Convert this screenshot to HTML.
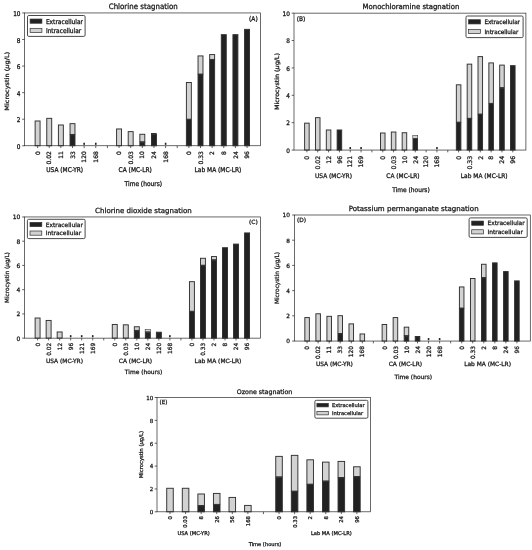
<!DOCTYPE html>
<html><head><meta charset="utf-8"><title>Microcystin stagnation</title>
<style>
html,body{margin:0;padding:0;background:#fff;}
svg{display:block;font-family:"DejaVu Sans", "Liberation Sans", sans-serif;fill:#222;}
svg text{fill:#1a1a1a;stroke:#1a1a1a;stroke-width:0.28px;}
</style></head><body>
<svg width="532" height="550" viewBox="0 0 532 550">
<rect x="0" y="0" width="532" height="550" fill="#fff"/>
<g id="panelA">
<rect x="35.12" y="120.99" width="4.95" height="24.76" fill="#d2d2d2" stroke="#303030" stroke-width="0.95"/>
<rect x="46.76" y="118.34" width="4.95" height="27.41" fill="#d2d2d2" stroke="#303030" stroke-width="0.95"/>
<rect x="58.4" y="124.98" width="4.95" height="20.77" fill="#d2d2d2" stroke="#303030" stroke-width="0.95"/>
<rect x="70.03" y="123.65" width="4.95" height="10.81" fill="#d2d2d2" stroke="#303030" stroke-width="0.95"/>
<rect x="70.03" y="134.94" width="4.95" height="10.81" fill="#222" stroke="#303030" stroke-width="0.95"/>
<rect x="83.34" y="142.75" width="1.6" height="2.1" fill="#222"/>
<rect x="94.98" y="142.75" width="1.6" height="2.1" fill="#222"/>
<rect x="116.58" y="128.96" width="4.95" height="16.79" fill="#d2d2d2" stroke="#303030" stroke-width="0.95"/>
<rect x="128.21" y="131.62" width="4.95" height="14.13" fill="#d2d2d2" stroke="#303030" stroke-width="0.95"/>
<rect x="139.85" y="134.27" width="4.95" height="7.49" fill="#d2d2d2" stroke="#303030" stroke-width="0.95"/>
<rect x="139.85" y="142.24" width="4.95" height="3.51" fill="#222" stroke="#303030" stroke-width="0.95"/>
<rect x="151.29" y="133.41" width="5.35" height="0.39" fill="#d2d2d2" stroke="#303030" stroke-width="0.55"/>
<rect x="151.49" y="134.27" width="4.95" height="11.48" fill="#222" stroke="#303030" stroke-width="0.95"/>
<rect x="164.8" y="142.75" width="1.6" height="2.1" fill="#222"/>
<rect x="186.39" y="82.48" width="4.95" height="36.71" fill="#d2d2d2" stroke="#303030" stroke-width="0.95"/>
<rect x="186.39" y="119.66" width="4.95" height="26.09" fill="#222" stroke="#303030" stroke-width="0.95"/>
<rect x="198.03" y="55.92" width="4.95" height="18.12" fill="#d2d2d2" stroke="#303030" stroke-width="0.95"/>
<rect x="198.03" y="74.51" width="4.95" height="71.24" fill="#222" stroke="#303030" stroke-width="0.95"/>
<rect x="209.67" y="54.59" width="4.95" height="4.84" fill="#d2d2d2" stroke="#303030" stroke-width="0.95"/>
<rect x="209.67" y="59.9" width="4.95" height="85.85" fill="#222" stroke="#303030" stroke-width="0.95"/>
<rect x="221.3" y="34.67" width="4.95" height="111.08" fill="#222" stroke="#303030" stroke-width="0.95"/>
<rect x="232.94" y="34.67" width="4.95" height="111.08" fill="#222" stroke="#303030" stroke-width="0.95"/>
<rect x="244.58" y="29.36" width="4.95" height="116.39" fill="#222" stroke="#303030" stroke-width="0.95"/>
<rect x="24.5" y="12.95" width="236" height="132.8" fill="none" stroke="#2a2a2a" stroke-width="0.7"/>
<line x1="22.2" y1="145.75" x2="24.5" y2="145.75" stroke="#383838" stroke-width="0.8"/>
<text transform="translate(20.5,148.82) scale(1,1.12)" text-anchor="end" font-size="5.8">0</text>
<line x1="22.2" y1="119.19" x2="24.5" y2="119.19" stroke="#383838" stroke-width="0.8"/>
<text transform="translate(20.5,122.26) scale(1,1.12)" text-anchor="end" font-size="5.8">2</text>
<line x1="22.2" y1="92.63" x2="24.5" y2="92.63" stroke="#383838" stroke-width="0.8"/>
<text transform="translate(20.5,95.7) scale(1,1.12)" text-anchor="end" font-size="5.8">4</text>
<line x1="22.2" y1="66.07" x2="24.5" y2="66.07" stroke="#383838" stroke-width="0.8"/>
<text transform="translate(20.5,69.14) scale(1,1.12)" text-anchor="end" font-size="5.8">6</text>
<line x1="22.2" y1="39.51" x2="24.5" y2="39.51" stroke="#383838" stroke-width="0.8"/>
<text transform="translate(20.5,42.58) scale(1,1.12)" text-anchor="end" font-size="5.8">8</text>
<line x1="22.2" y1="12.95" x2="24.5" y2="12.95" stroke="#383838" stroke-width="0.8"/>
<text transform="translate(20.5,16.02) scale(1,1.12)" text-anchor="end" font-size="5.8">10</text>
<line x1="37.6" y1="145.75" x2="37.6" y2="148.05" stroke="#383838" stroke-width="0.8"/>
<text transform="translate(39.76,151.2) rotate(-90)" text-anchor="end" font-size="6.0">0</text>
<line x1="49.24" y1="145.75" x2="49.24" y2="148.05" stroke="#383838" stroke-width="0.8"/>
<text transform="translate(51.4,151.2) rotate(-90)" text-anchor="end" font-size="6.0">0.02</text>
<line x1="60.87" y1="145.75" x2="60.87" y2="148.05" stroke="#383838" stroke-width="0.8"/>
<text transform="translate(63.03,151.2) rotate(-90)" text-anchor="end" font-size="6.0">11</text>
<line x1="72.51" y1="145.75" x2="72.51" y2="148.05" stroke="#383838" stroke-width="0.8"/>
<text transform="translate(74.67,151.2) rotate(-90)" text-anchor="end" font-size="6.0">33</text>
<line x1="84.14" y1="145.75" x2="84.14" y2="148.05" stroke="#383838" stroke-width="0.8"/>
<text transform="translate(86.3,151.2) rotate(-90)" text-anchor="end" font-size="6.0">120</text>
<line x1="95.78" y1="145.75" x2="95.78" y2="148.05" stroke="#383838" stroke-width="0.8"/>
<text transform="translate(97.94,151.2) rotate(-90)" text-anchor="end" font-size="6.0">168</text>
<text transform="translate(64.69,171.8) scale(1,1.12)" text-anchor="middle" font-size="5.9">USA (MC-YR)</text>
<line x1="107.42" y1="145.75" x2="107.42" y2="148.05" stroke="#383838" stroke-width="0.8"/>
<line x1="119.05" y1="145.75" x2="119.05" y2="148.05" stroke="#383838" stroke-width="0.8"/>
<text transform="translate(121.21,151.2) rotate(-90)" text-anchor="end" font-size="6.0">0</text>
<line x1="130.69" y1="145.75" x2="130.69" y2="148.05" stroke="#383838" stroke-width="0.8"/>
<text transform="translate(132.85,151.2) rotate(-90)" text-anchor="end" font-size="6.0">0.03</text>
<line x1="142.33" y1="145.75" x2="142.33" y2="148.05" stroke="#383838" stroke-width="0.8"/>
<text transform="translate(144.49,151.2) rotate(-90)" text-anchor="end" font-size="6.0">10</text>
<line x1="153.96" y1="145.75" x2="153.96" y2="148.05" stroke="#383838" stroke-width="0.8"/>
<text transform="translate(156.12,151.2) rotate(-90)" text-anchor="end" font-size="6.0">24</text>
<line x1="165.6" y1="145.75" x2="165.6" y2="148.05" stroke="#383838" stroke-width="0.8"/>
<text transform="translate(167.76,151.2) rotate(-90)" text-anchor="end" font-size="6.0">168</text>
<text transform="translate(135.23,171.8) scale(1,1.12)" text-anchor="middle" font-size="5.9">CA (MC-LR)</text>
<line x1="177.23" y1="145.75" x2="177.23" y2="148.05" stroke="#383838" stroke-width="0.8"/>
<line x1="188.87" y1="145.75" x2="188.87" y2="148.05" stroke="#383838" stroke-width="0.8"/>
<text transform="translate(191.03,151.2) rotate(-90)" text-anchor="end" font-size="6.0">0</text>
<line x1="200.51" y1="145.75" x2="200.51" y2="148.05" stroke="#383838" stroke-width="0.8"/>
<text transform="translate(202.67,151.2) rotate(-90)" text-anchor="end" font-size="6.0">0.33</text>
<line x1="212.14" y1="145.75" x2="212.14" y2="148.05" stroke="#383838" stroke-width="0.8"/>
<text transform="translate(214.3,151.2) rotate(-90)" text-anchor="end" font-size="6.0">2</text>
<line x1="223.78" y1="145.75" x2="223.78" y2="148.05" stroke="#383838" stroke-width="0.8"/>
<text transform="translate(225.94,151.2) rotate(-90)" text-anchor="end" font-size="6.0">8</text>
<line x1="235.41" y1="145.75" x2="235.41" y2="148.05" stroke="#383838" stroke-width="0.8"/>
<text transform="translate(237.57,151.2) rotate(-90)" text-anchor="end" font-size="6.0">24</text>
<line x1="247.05" y1="145.75" x2="247.05" y2="148.05" stroke="#383838" stroke-width="0.8"/>
<text transform="translate(249.21,151.2) rotate(-90)" text-anchor="end" font-size="6.0">96</text>
<text transform="translate(217.96,171.8) scale(1,1.12)" text-anchor="middle" font-size="5.9">Lab MA (MC-LR)</text>
<text transform="translate(143.3,185.7) scale(1,1.12)" text-anchor="middle" font-size="5.9">Time (hours)</text>
<text transform="translate(8.6,81.25) scale(1,1.12) rotate(-90)" text-anchor="middle" font-size="5.89">Microcystin (<tspan font-style="italic">μ</tspan>g/L)</text>
<text transform="translate(143.2,9.3) scale(1,1.072)" text-anchor="middle" font-size="7.05">Chlorine stagnation</text>
<text transform="translate(257.7,20.8) scale(1,1.12)" text-anchor="end" font-size="5.9">(A)</text>
<rect x="27.5" y="15.5" width="57.6" height="20.9" rx="1.3" fill="#fff" stroke="#404040" stroke-width="0.95"/>
<rect x="30.1" y="19.04" width="11.8" height="4.2" fill="#222" stroke="#303030" stroke-width="0.7"/>
<text transform="translate(45.9,23.52) scale(1,1.12)" font-size="5.9">Extracellular</text>
<rect x="30.1" y="28.34" width="11.8" height="4.2" fill="#d2d2d2" stroke="#303030" stroke-width="0.7"/>
<text transform="translate(45.9,32.82) scale(1,1.12)" font-size="5.9">Intracellular</text>
</g>
<g id="panelB">
<rect x="304.62" y="123.15" width="4.55" height="26.9" fill="#d2d2d2" stroke="#303030" stroke-width="0.95"/>
<rect x="315.46" y="117.67" width="4.55" height="32.38" fill="#d2d2d2" stroke="#303030" stroke-width="0.95"/>
<rect x="326.3" y="129.99" width="4.55" height="20.06" fill="#d2d2d2" stroke="#303030" stroke-width="0.95"/>
<rect x="337.14" y="129.99" width="4.55" height="20.06" fill="#222" stroke="#303030" stroke-width="0.95"/>
<rect x="349.45" y="147.05" width="1.6" height="2.1" fill="#222"/>
<rect x="360.28" y="147.05" width="1.6" height="2.1" fill="#222"/>
<rect x="380.48" y="133" width="4.55" height="17.05" fill="#d2d2d2" stroke="#303030" stroke-width="0.95"/>
<rect x="391.32" y="132.04" width="4.55" height="18.01" fill="#d2d2d2" stroke="#303030" stroke-width="0.95"/>
<rect x="402.16" y="132.73" width="4.55" height="17.32" fill="#d2d2d2" stroke="#303030" stroke-width="0.95"/>
<rect x="412.79" y="135.54" width="4.95" height="2.74" fill="#d2d2d2" stroke="#303030" stroke-width="0.55"/>
<rect x="412.99" y="138.75" width="4.55" height="11.3" fill="#222" stroke="#303030" stroke-width="0.95"/>
<rect x="436.14" y="147.05" width="1.6" height="2.1" fill="#222"/>
<rect x="456.34" y="84.81" width="4.55" height="37.31" fill="#d2d2d2" stroke="#303030" stroke-width="0.95"/>
<rect x="456.34" y="122.6" width="4.55" height="27.45" fill="#222" stroke="#303030" stroke-width="0.95"/>
<rect x="467.18" y="64.14" width="4.55" height="54.15" fill="#d2d2d2" stroke="#303030" stroke-width="0.95"/>
<rect x="467.18" y="118.76" width="4.55" height="31.29" fill="#222" stroke="#303030" stroke-width="0.95"/>
<rect x="478.01" y="56.61" width="4.55" height="57.43" fill="#d2d2d2" stroke="#303030" stroke-width="0.95"/>
<rect x="478.01" y="114.52" width="4.55" height="35.53" fill="#222" stroke="#303030" stroke-width="0.95"/>
<rect x="488.85" y="62.91" width="4.55" height="40.46" fill="#d2d2d2" stroke="#303030" stroke-width="0.95"/>
<rect x="488.85" y="103.84" width="4.55" height="46.21" fill="#222" stroke="#303030" stroke-width="0.95"/>
<rect x="499.69" y="65.1" width="4.55" height="22.52" fill="#d2d2d2" stroke="#303030" stroke-width="0.95"/>
<rect x="499.69" y="88.1" width="4.55" height="61.95" fill="#222" stroke="#303030" stroke-width="0.95"/>
<rect x="510.52" y="65.65" width="4.55" height="84.4" fill="#222" stroke="#303030" stroke-width="0.95"/>
<rect x="294" y="13.15" width="231.9" height="136.9" fill="none" stroke="#2a2a2a" stroke-width="0.7"/>
<line x1="291.7" y1="150.05" x2="294" y2="150.05" stroke="#383838" stroke-width="0.8"/>
<text transform="translate(289.9,152.82) scale(1,1.07)" text-anchor="end" font-size="5.8">0</text>
<line x1="291.7" y1="122.67" x2="294" y2="122.67" stroke="#383838" stroke-width="0.8"/>
<text transform="translate(289.9,125.44) scale(1,1.07)" text-anchor="end" font-size="5.8">2</text>
<line x1="291.7" y1="95.29" x2="294" y2="95.29" stroke="#383838" stroke-width="0.8"/>
<text transform="translate(289.9,98.06) scale(1,1.07)" text-anchor="end" font-size="5.8">4</text>
<line x1="291.7" y1="67.91" x2="294" y2="67.91" stroke="#383838" stroke-width="0.8"/>
<text transform="translate(289.9,70.68) scale(1,1.07)" text-anchor="end" font-size="5.8">6</text>
<line x1="291.7" y1="40.53" x2="294" y2="40.53" stroke="#383838" stroke-width="0.8"/>
<text transform="translate(289.9,43.3) scale(1,1.07)" text-anchor="end" font-size="5.8">8</text>
<line x1="291.7" y1="13.15" x2="294" y2="13.15" stroke="#383838" stroke-width="0.8"/>
<text transform="translate(289.9,15.92) scale(1,1.07)" text-anchor="end" font-size="5.8">10</text>
<line x1="306.9" y1="150.05" x2="306.9" y2="152.35" stroke="#383838" stroke-width="0.8"/>
<text transform="translate(309.13,155.75) rotate(-90)" text-anchor="end" font-size="6.2">0</text>
<line x1="317.74" y1="150.05" x2="317.74" y2="152.35" stroke="#383838" stroke-width="0.8"/>
<text transform="translate(319.97,155.75) rotate(-90)" text-anchor="end" font-size="6.2">0.02</text>
<line x1="328.57" y1="150.05" x2="328.57" y2="152.35" stroke="#383838" stroke-width="0.8"/>
<text transform="translate(330.81,155.75) rotate(-90)" text-anchor="end" font-size="6.2">12</text>
<line x1="339.41" y1="150.05" x2="339.41" y2="152.35" stroke="#383838" stroke-width="0.8"/>
<text transform="translate(341.64,155.75) rotate(-90)" text-anchor="end" font-size="6.2">96</text>
<line x1="350.25" y1="150.05" x2="350.25" y2="152.35" stroke="#383838" stroke-width="0.8"/>
<text transform="translate(352.48,155.75) rotate(-90)" text-anchor="end" font-size="6.2">121</text>
<line x1="361.08" y1="150.05" x2="361.08" y2="152.35" stroke="#383838" stroke-width="0.8"/>
<text transform="translate(363.32,155.75) rotate(-90)" text-anchor="end" font-size="6.2">169</text>
<text transform="translate(333.49,177.8) scale(1,1.07)" text-anchor="middle" font-size="5.9">USA (MC-YR)</text>
<line x1="371.92" y1="150.05" x2="371.92" y2="152.35" stroke="#383838" stroke-width="0.8"/>
<line x1="382.76" y1="150.05" x2="382.76" y2="152.35" stroke="#383838" stroke-width="0.8"/>
<text transform="translate(384.99,155.75) rotate(-90)" text-anchor="end" font-size="6.2">0</text>
<line x1="393.59" y1="150.05" x2="393.59" y2="152.35" stroke="#383838" stroke-width="0.8"/>
<text transform="translate(395.83,155.75) rotate(-90)" text-anchor="end" font-size="6.2">0.03</text>
<line x1="404.43" y1="150.05" x2="404.43" y2="152.35" stroke="#383838" stroke-width="0.8"/>
<text transform="translate(406.66,155.75) rotate(-90)" text-anchor="end" font-size="6.2">10</text>
<line x1="415.27" y1="150.05" x2="415.27" y2="152.35" stroke="#383838" stroke-width="0.8"/>
<text transform="translate(417.5,155.75) rotate(-90)" text-anchor="end" font-size="6.2">24</text>
<line x1="426.11" y1="150.05" x2="426.11" y2="152.35" stroke="#383838" stroke-width="0.8"/>
<text transform="translate(428.34,155.75) rotate(-90)" text-anchor="end" font-size="6.2">120</text>
<line x1="436.94" y1="150.05" x2="436.94" y2="152.35" stroke="#383838" stroke-width="0.8"/>
<text transform="translate(439.17,155.75) rotate(-90)" text-anchor="end" font-size="6.2">168</text>
<text transform="translate(402.95,177.8) scale(1,1.07)" text-anchor="middle" font-size="5.9">CA (MC-LR)</text>
<line x1="447.78" y1="150.05" x2="447.78" y2="152.35" stroke="#383838" stroke-width="0.8"/>
<line x1="458.62" y1="150.05" x2="458.62" y2="152.35" stroke="#383838" stroke-width="0.8"/>
<text transform="translate(460.85,155.75) rotate(-90)" text-anchor="end" font-size="6.2">0</text>
<line x1="469.45" y1="150.05" x2="469.45" y2="152.35" stroke="#383838" stroke-width="0.8"/>
<text transform="translate(471.68,155.75) rotate(-90)" text-anchor="end" font-size="6.2">0.33</text>
<line x1="480.29" y1="150.05" x2="480.29" y2="152.35" stroke="#383838" stroke-width="0.8"/>
<text transform="translate(482.52,155.75) rotate(-90)" text-anchor="end" font-size="6.2">2</text>
<line x1="491.13" y1="150.05" x2="491.13" y2="152.35" stroke="#383838" stroke-width="0.8"/>
<text transform="translate(493.36,155.75) rotate(-90)" text-anchor="end" font-size="6.2">8</text>
<line x1="501.96" y1="150.05" x2="501.96" y2="152.35" stroke="#383838" stroke-width="0.8"/>
<text transform="translate(504.2,155.75) rotate(-90)" text-anchor="end" font-size="6.2">24</text>
<line x1="512.8" y1="150.05" x2="512.8" y2="152.35" stroke="#383838" stroke-width="0.8"/>
<text transform="translate(515.03,155.75) rotate(-90)" text-anchor="end" font-size="6.2">96</text>
<text transform="translate(484.21,177.8) scale(1,1.07)" text-anchor="middle" font-size="5.9">Lab MA (MC-LR)</text>
<text transform="translate(411,191.6) scale(1,1.07)" text-anchor="middle" font-size="5.9">Time (hours)</text>
<text transform="translate(278.5,81.6) scale(1,1.085) rotate(-90)" text-anchor="middle" font-size="5.9">Microcystin (<tspan font-style="italic">μ</tspan>g/L)</text>
<text transform="translate(410.9,9.2) scale(1,1.042)" text-anchor="middle" font-size="6.95">Monochloramine stagnation</text>
<text transform="translate(296.7,21.23) scale(1,1.07)" font-size="5.9">(B)</text>
<rect x="466" y="16" width="57.1" height="21.6" rx="1.3" fill="#fff" stroke="#404040" stroke-width="0.95"/>
<rect x="468.6" y="19.73" width="11.8" height="4.2" fill="#222" stroke="#303030" stroke-width="0.7"/>
<text transform="translate(484.4,24.01) scale(1,1.07)" font-size="5.65">Extracellular</text>
<rect x="468.6" y="29.34" width="11.8" height="4.2" fill="#d2d2d2" stroke="#303030" stroke-width="0.7"/>
<text transform="translate(484.4,33.62) scale(1,1.07)" font-size="5.65">Intracellular</text>
</g>
<g id="panelC">
<rect x="35.12" y="318.02" width="4.95" height="20.13" fill="#d2d2d2" stroke="#303030" stroke-width="0.95"/>
<rect x="46.15" y="320.44" width="4.95" height="17.71" fill="#d2d2d2" stroke="#303030" stroke-width="0.95"/>
<rect x="57.17" y="331.96" width="4.95" height="6.19" fill="#d2d2d2" stroke="#303030" stroke-width="0.95"/>
<rect x="69.87" y="335.15" width="1.6" height="2.1" fill="#222"/>
<rect x="80.89" y="335.15" width="1.6" height="2.1" fill="#222"/>
<rect x="91.92" y="335.15" width="1.6" height="2.1" fill="#222"/>
<rect x="112.29" y="324.44" width="4.95" height="13.71" fill="#d2d2d2" stroke="#303030" stroke-width="0.95"/>
<rect x="123.31" y="324.81" width="4.95" height="13.34" fill="#d2d2d2" stroke="#303030" stroke-width="0.95"/>
<rect x="134.34" y="326.75" width="4.95" height="3.65" fill="#d2d2d2" stroke="#303030" stroke-width="0.95"/>
<rect x="134.34" y="330.87" width="4.95" height="7.28" fill="#222" stroke="#303030" stroke-width="0.95"/>
<rect x="145.16" y="329.46" width="5.35" height="2.27" fill="#d2d2d2" stroke="#303030" stroke-width="0.55"/>
<rect x="145.36" y="332.2" width="4.95" height="5.95" fill="#222" stroke="#303030" stroke-width="0.95"/>
<rect x="156.39" y="332.2" width="4.95" height="5.95" fill="#222" stroke="#303030" stroke-width="0.95"/>
<rect x="169.08" y="335.15" width="1.6" height="2.1" fill="#222"/>
<rect x="189.46" y="281.66" width="4.95" height="29.58" fill="#d2d2d2" stroke="#303030" stroke-width="0.95"/>
<rect x="189.46" y="311.72" width="4.95" height="26.43" fill="#222" stroke="#303030" stroke-width="0.95"/>
<rect x="200.48" y="258.27" width="4.95" height="6.92" fill="#d2d2d2" stroke="#303030" stroke-width="0.95"/>
<rect x="200.48" y="265.66" width="4.95" height="72.49" fill="#222" stroke="#303030" stroke-width="0.95"/>
<rect x="211.5" y="256.57" width="4.95" height="3.16" fill="#d2d2d2" stroke="#303030" stroke-width="0.95"/>
<rect x="211.5" y="260.21" width="4.95" height="77.94" fill="#222" stroke="#303030" stroke-width="0.95"/>
<rect x="222.53" y="247.72" width="4.95" height="90.42" fill="#222" stroke="#303030" stroke-width="0.95"/>
<rect x="233.55" y="244.09" width="4.95" height="94.06" fill="#222" stroke="#303030" stroke-width="0.95"/>
<rect x="244.58" y="232.94" width="4.95" height="105.21" fill="#222" stroke="#303030" stroke-width="0.95"/>
<rect x="24.5" y="216.95" width="236" height="121.2" fill="none" stroke="#2a2a2a" stroke-width="0.7"/>
<line x1="22.2" y1="338.15" x2="24.5" y2="338.15" stroke="#383838" stroke-width="0.8"/>
<text x="20.3" y="340.64" text-anchor="end" font-size="6.0">0</text>
<line x1="22.2" y1="313.91" x2="24.5" y2="313.91" stroke="#383838" stroke-width="0.8"/>
<text x="20.3" y="316.4" text-anchor="end" font-size="6.0">2</text>
<line x1="22.2" y1="289.67" x2="24.5" y2="289.67" stroke="#383838" stroke-width="0.8"/>
<text x="20.3" y="292.16" text-anchor="end" font-size="6.0">4</text>
<line x1="22.2" y1="265.43" x2="24.5" y2="265.43" stroke="#383838" stroke-width="0.8"/>
<text x="20.3" y="267.92" text-anchor="end" font-size="6.0">6</text>
<line x1="22.2" y1="241.19" x2="24.5" y2="241.19" stroke="#383838" stroke-width="0.8"/>
<text x="20.3" y="243.68" text-anchor="end" font-size="6.0">8</text>
<line x1="22.2" y1="216.95" x2="24.5" y2="216.95" stroke="#383838" stroke-width="0.8"/>
<text x="20.3" y="219.44" text-anchor="end" font-size="6.0">10</text>
<line x1="37.6" y1="338.15" x2="37.6" y2="340.45" stroke="#383838" stroke-width="0.8"/>
<text transform="translate(39.69,342.9) rotate(-90)" text-anchor="end" font-size="5.8">0</text>
<line x1="48.62" y1="338.15" x2="48.62" y2="340.45" stroke="#383838" stroke-width="0.8"/>
<text transform="translate(50.71,342.9) rotate(-90)" text-anchor="end" font-size="5.8">0.02</text>
<line x1="59.65" y1="338.15" x2="59.65" y2="340.45" stroke="#383838" stroke-width="0.8"/>
<text transform="translate(61.74,342.9) rotate(-90)" text-anchor="end" font-size="5.8">12</text>
<line x1="70.67" y1="338.15" x2="70.67" y2="340.45" stroke="#383838" stroke-width="0.8"/>
<text transform="translate(72.76,342.9) rotate(-90)" text-anchor="end" font-size="5.8">96</text>
<line x1="81.69" y1="338.15" x2="81.69" y2="340.45" stroke="#383838" stroke-width="0.8"/>
<text transform="translate(83.78,342.9) rotate(-90)" text-anchor="end" font-size="5.8">121</text>
<line x1="92.72" y1="338.15" x2="92.72" y2="340.45" stroke="#383838" stroke-width="0.8"/>
<text transform="translate(94.81,342.9) rotate(-90)" text-anchor="end" font-size="5.8">169</text>
<text x="64.46" y="362.9" text-anchor="middle" font-size="5.9">USA (MC-YR)</text>
<line x1="103.74" y1="338.15" x2="103.74" y2="340.45" stroke="#383838" stroke-width="0.8"/>
<line x1="114.77" y1="338.15" x2="114.77" y2="340.45" stroke="#383838" stroke-width="0.8"/>
<text transform="translate(116.85,342.9) rotate(-90)" text-anchor="end" font-size="5.8">0</text>
<line x1="125.79" y1="338.15" x2="125.79" y2="340.45" stroke="#383838" stroke-width="0.8"/>
<text transform="translate(127.88,342.9) rotate(-90)" text-anchor="end" font-size="5.8">0.03</text>
<line x1="136.81" y1="338.15" x2="136.81" y2="340.45" stroke="#383838" stroke-width="0.8"/>
<text transform="translate(138.9,342.9) rotate(-90)" text-anchor="end" font-size="5.8">10</text>
<line x1="147.84" y1="338.15" x2="147.84" y2="340.45" stroke="#383838" stroke-width="0.8"/>
<text transform="translate(149.92,342.9) rotate(-90)" text-anchor="end" font-size="5.8">24</text>
<line x1="158.86" y1="338.15" x2="158.86" y2="340.45" stroke="#383838" stroke-width="0.8"/>
<text transform="translate(160.95,342.9) rotate(-90)" text-anchor="end" font-size="5.8">120</text>
<line x1="169.88" y1="338.15" x2="169.88" y2="340.45" stroke="#383838" stroke-width="0.8"/>
<text transform="translate(171.97,342.9) rotate(-90)" text-anchor="end" font-size="5.8">168</text>
<text x="135.53" y="362.9" text-anchor="middle" font-size="5.9">CA (MC-LR)</text>
<line x1="180.91" y1="338.15" x2="180.91" y2="340.45" stroke="#383838" stroke-width="0.8"/>
<line x1="191.93" y1="338.15" x2="191.93" y2="340.45" stroke="#383838" stroke-width="0.8"/>
<text transform="translate(194.02,342.9) rotate(-90)" text-anchor="end" font-size="5.8">0</text>
<line x1="202.96" y1="338.15" x2="202.96" y2="340.45" stroke="#383838" stroke-width="0.8"/>
<text transform="translate(205.04,342.9) rotate(-90)" text-anchor="end" font-size="5.8">0.33</text>
<line x1="213.98" y1="338.15" x2="213.98" y2="340.45" stroke="#383838" stroke-width="0.8"/>
<text transform="translate(216.07,342.9) rotate(-90)" text-anchor="end" font-size="5.8">2</text>
<line x1="225" y1="338.15" x2="225" y2="340.45" stroke="#383838" stroke-width="0.8"/>
<text transform="translate(227.09,342.9) rotate(-90)" text-anchor="end" font-size="5.8">8</text>
<line x1="236.03" y1="338.15" x2="236.03" y2="340.45" stroke="#383838" stroke-width="0.8"/>
<text transform="translate(238.11,342.9) rotate(-90)" text-anchor="end" font-size="5.8">24</text>
<line x1="247.05" y1="338.15" x2="247.05" y2="340.45" stroke="#383838" stroke-width="0.8"/>
<text transform="translate(249.14,342.9) rotate(-90)" text-anchor="end" font-size="5.8">96</text>
<text x="217.99" y="362.9" text-anchor="middle" font-size="5.9">Lab MA (MC-LR)</text>
<text x="143.6" y="374.3" text-anchor="middle" font-size="5.9">Time (hours)</text>
<text transform="translate(8.6,277.55) scale(1,1.0) rotate(-90)" text-anchor="middle" font-size="5.7">Microcystin (<tspan font-style="italic">μ</tspan>g/L)</text>
<text x="143.45" y="213.4" text-anchor="middle" font-size="7.05">Chlorine dioxide stagnation</text>
<text x="257.7" y="224.06" text-anchor="end" font-size="5.9">(C)</text>
<rect x="27.4" y="219.3" width="57.7" height="19.3" rx="1.3" fill="#fff" stroke="#404040" stroke-width="0.95"/>
<rect x="30" y="222.41" width="11.8" height="4.2" fill="#222" stroke="#303030" stroke-width="0.7"/>
<text x="45.8" y="226.63" font-size="5.9">Extracellular</text>
<rect x="30" y="231" width="11.8" height="4.2" fill="#d2d2d2" stroke="#303030" stroke-width="0.7"/>
<text x="45.8" y="235.22" font-size="5.9">Intracellular</text>
</g>
<g id="panelD">
<rect x="304.83" y="317.58" width="4.55" height="23.47" fill="#d2d2d2" stroke="#303030" stroke-width="0.95"/>
<rect x="315.87" y="313.79" width="4.55" height="27.26" fill="#d2d2d2" stroke="#303030" stroke-width="0.95"/>
<rect x="326.91" y="316.32" width="4.55" height="24.73" fill="#d2d2d2" stroke="#303030" stroke-width="0.95"/>
<rect x="337.95" y="315.68" width="4.55" height="17.8" fill="#d2d2d2" stroke="#303030" stroke-width="0.95"/>
<rect x="337.95" y="333.96" width="4.55" height="7.09" fill="#222" stroke="#303030" stroke-width="0.95"/>
<rect x="348.99" y="323.88" width="4.55" height="17.17" fill="#d2d2d2" stroke="#303030" stroke-width="0.95"/>
<rect x="360.04" y="333.96" width="4.55" height="7.09" fill="#d2d2d2" stroke="#303030" stroke-width="0.95"/>
<rect x="382.12" y="324.51" width="4.55" height="16.54" fill="#d2d2d2" stroke="#303030" stroke-width="0.95"/>
<rect x="393.16" y="317.58" width="4.55" height="23.47" fill="#d2d2d2" stroke="#303030" stroke-width="0.95"/>
<rect x="404.2" y="327.16" width="4.55" height="8.47" fill="#d2d2d2" stroke="#303030" stroke-width="0.95"/>
<rect x="404.2" y="336.1" width="4.55" height="4.95" fill="#222" stroke="#303030" stroke-width="0.95"/>
<rect x="415.25" y="336.48" width="4.55" height="4.57" fill="#222" stroke="#303030" stroke-width="0.95"/>
<rect x="427.76" y="338.05" width="1.6" height="2.1" fill="#222"/>
<rect x="438.81" y="338.05" width="1.6" height="2.1" fill="#222"/>
<rect x="459.41" y="286.95" width="4.55" height="21.08" fill="#d2d2d2" stroke="#303030" stroke-width="0.95"/>
<rect x="459.41" y="308.5" width="4.55" height="32.55" fill="#222" stroke="#303030" stroke-width="0.95"/>
<rect x="470.46" y="278.5" width="4.55" height="62.55" fill="#d2d2d2" stroke="#303030" stroke-width="0.95"/>
<rect x="481.5" y="264.26" width="4.55" height="13.26" fill="#d2d2d2" stroke="#303030" stroke-width="0.95"/>
<rect x="481.5" y="278" width="4.55" height="63.05" fill="#222" stroke="#303030" stroke-width="0.95"/>
<rect x="492.54" y="262.87" width="4.55" height="78.18" fill="#222" stroke="#303030" stroke-width="0.95"/>
<rect x="503.58" y="271.57" width="4.55" height="69.48" fill="#222" stroke="#303030" stroke-width="0.95"/>
<rect x="514.62" y="280.89" width="4.55" height="60.16" fill="#222" stroke="#303030" stroke-width="0.95"/>
<rect x="294.5" y="215" width="235.8" height="126.05" fill="none" stroke="#2a2a2a" stroke-width="0.7"/>
<line x1="292.2" y1="341.05" x2="294.5" y2="341.05" stroke="#383838" stroke-width="0.8"/>
<text x="290" y="343.47" text-anchor="end" font-size="5.8">0</text>
<line x1="292.2" y1="315.84" x2="294.5" y2="315.84" stroke="#383838" stroke-width="0.8"/>
<text x="290" y="318.26" text-anchor="end" font-size="5.8">2</text>
<line x1="292.2" y1="290.63" x2="294.5" y2="290.63" stroke="#383838" stroke-width="0.8"/>
<text x="290" y="293.05" text-anchor="end" font-size="5.8">4</text>
<line x1="292.2" y1="265.42" x2="294.5" y2="265.42" stroke="#383838" stroke-width="0.8"/>
<text x="290" y="267.84" text-anchor="end" font-size="5.8">6</text>
<line x1="292.2" y1="240.21" x2="294.5" y2="240.21" stroke="#383838" stroke-width="0.8"/>
<text x="290" y="242.63" text-anchor="end" font-size="5.8">8</text>
<line x1="292.2" y1="215" x2="294.5" y2="215" stroke="#383838" stroke-width="0.8"/>
<text x="290" y="217.42" text-anchor="end" font-size="5.8">10</text>
<line x1="307.1" y1="341.05" x2="307.1" y2="343.35" stroke="#383838" stroke-width="0.8"/>
<text transform="translate(309.22,345.9) rotate(-90)" text-anchor="end" font-size="5.9">0</text>
<line x1="318.14" y1="341.05" x2="318.14" y2="343.35" stroke="#383838" stroke-width="0.8"/>
<text transform="translate(320.27,345.9) rotate(-90)" text-anchor="end" font-size="5.9">0.02</text>
<line x1="329.18" y1="341.05" x2="329.18" y2="343.35" stroke="#383838" stroke-width="0.8"/>
<text transform="translate(331.31,345.9) rotate(-90)" text-anchor="end" font-size="5.9">11</text>
<line x1="340.23" y1="341.05" x2="340.23" y2="343.35" stroke="#383838" stroke-width="0.8"/>
<text transform="translate(342.35,345.9) rotate(-90)" text-anchor="end" font-size="5.9">33</text>
<line x1="351.27" y1="341.05" x2="351.27" y2="343.35" stroke="#383838" stroke-width="0.8"/>
<text transform="translate(353.39,345.9) rotate(-90)" text-anchor="end" font-size="5.9">120</text>
<line x1="362.31" y1="341.05" x2="362.31" y2="343.35" stroke="#383838" stroke-width="0.8"/>
<text transform="translate(364.43,345.9) rotate(-90)" text-anchor="end" font-size="5.9">168</text>
<text x="334.41" y="366.3" text-anchor="middle" font-size="5.9">USA (MC-YR)</text>
<line x1="373.35" y1="341.05" x2="373.35" y2="343.35" stroke="#383838" stroke-width="0.8"/>
<line x1="384.39" y1="341.05" x2="384.39" y2="343.35" stroke="#383838" stroke-width="0.8"/>
<text transform="translate(386.52,345.9) rotate(-90)" text-anchor="end" font-size="5.9">0</text>
<line x1="395.44" y1="341.05" x2="395.44" y2="343.35" stroke="#383838" stroke-width="0.8"/>
<text transform="translate(397.56,345.9) rotate(-90)" text-anchor="end" font-size="5.9">0.03</text>
<line x1="406.48" y1="341.05" x2="406.48" y2="343.35" stroke="#383838" stroke-width="0.8"/>
<text transform="translate(408.6,345.9) rotate(-90)" text-anchor="end" font-size="5.9">10</text>
<line x1="417.52" y1="341.05" x2="417.52" y2="343.35" stroke="#383838" stroke-width="0.8"/>
<text transform="translate(419.65,345.9) rotate(-90)" text-anchor="end" font-size="5.9">24</text>
<line x1="428.56" y1="341.05" x2="428.56" y2="343.35" stroke="#383838" stroke-width="0.8"/>
<text transform="translate(430.69,345.9) rotate(-90)" text-anchor="end" font-size="5.9">120</text>
<line x1="439.61" y1="341.05" x2="439.61" y2="343.35" stroke="#383838" stroke-width="0.8"/>
<text transform="translate(441.73,345.9) rotate(-90)" text-anchor="end" font-size="5.9">168</text>
<text x="405.4" y="366.3" text-anchor="middle" font-size="5.9">CA (MC-LR)</text>
<line x1="450.65" y1="341.05" x2="450.65" y2="343.35" stroke="#383838" stroke-width="0.8"/>
<line x1="461.69" y1="341.05" x2="461.69" y2="343.35" stroke="#383838" stroke-width="0.8"/>
<text transform="translate(463.81,345.9) rotate(-90)" text-anchor="end" font-size="5.9">0</text>
<line x1="472.73" y1="341.05" x2="472.73" y2="343.35" stroke="#383838" stroke-width="0.8"/>
<text transform="translate(474.86,345.9) rotate(-90)" text-anchor="end" font-size="5.9">0.33</text>
<line x1="483.77" y1="341.05" x2="483.77" y2="343.35" stroke="#383838" stroke-width="0.8"/>
<text transform="translate(485.9,345.9) rotate(-90)" text-anchor="end" font-size="5.9">2</text>
<line x1="494.82" y1="341.05" x2="494.82" y2="343.35" stroke="#383838" stroke-width="0.8"/>
<text transform="translate(496.94,345.9) rotate(-90)" text-anchor="end" font-size="5.9">8</text>
<line x1="505.86" y1="341.05" x2="505.86" y2="343.35" stroke="#383838" stroke-width="0.8"/>
<text transform="translate(507.98,345.9) rotate(-90)" text-anchor="end" font-size="5.9">24</text>
<line x1="516.9" y1="341.05" x2="516.9" y2="343.35" stroke="#383838" stroke-width="0.8"/>
<text transform="translate(519.02,345.9) rotate(-90)" text-anchor="end" font-size="5.9">96</text>
<text x="487.59" y="366.3" text-anchor="middle" font-size="5.9">Lab MA (MC-LR)</text>
<text x="413.3" y="379.2" text-anchor="middle" font-size="5.9">Time (hours)</text>
<text transform="translate(278.9,278.02) scale(1,1.0) rotate(-90)" text-anchor="middle" font-size="5.85">Microcystin (<tspan font-style="italic">μ</tspan>g/L)</text>
<text x="413.65" y="211" text-anchor="middle" font-size="7.06">Potassium permanganate stagnation</text>
<text x="297" y="222.11" font-size="5.9">(D)</text>
<rect x="469.1" y="217.9" width="58.1" height="19.5" rx="1.3" fill="#fff" stroke="#404040" stroke-width="0.95"/>
<rect x="471.7" y="221.07" width="11.8" height="4.2" fill="#222" stroke="#303030" stroke-width="0.7"/>
<text x="487.5" y="225.29" font-size="5.9">Extracellular</text>
<rect x="471.7" y="229.74" width="11.8" height="4.2" fill="#d2d2d2" stroke="#303030" stroke-width="0.7"/>
<text x="487.5" y="233.97" font-size="5.9">Intracellular</text>
</g>
<g id="panelE">
<rect x="166.72" y="488.27" width="6.55" height="23.53" fill="#d2d2d2" stroke="#303030" stroke-width="0.95"/>
<rect x="182.3" y="488.27" width="6.55" height="23.53" fill="#d2d2d2" stroke="#303030" stroke-width="0.95"/>
<rect x="197.88" y="493.99" width="6.55" height="11.53" fill="#d2d2d2" stroke="#303030" stroke-width="0.95"/>
<rect x="197.88" y="505.99" width="6.55" height="5.81" fill="#222" stroke="#303030" stroke-width="0.95"/>
<rect x="213.45" y="493.42" width="6.55" height="10.96" fill="#d2d2d2" stroke="#303030" stroke-width="0.95"/>
<rect x="213.45" y="504.85" width="6.55" height="6.95" fill="#222" stroke="#303030" stroke-width="0.95"/>
<rect x="229.02" y="497.42" width="6.55" height="14.38" fill="#d2d2d2" stroke="#303030" stroke-width="0.95"/>
<rect x="244.6" y="505.42" width="6.55" height="6.38" fill="#d2d2d2" stroke="#303030" stroke-width="0.95"/>
<rect x="275.75" y="456.38" width="6.55" height="20.44" fill="#d2d2d2" stroke="#303030" stroke-width="0.95"/>
<rect x="275.75" y="477.3" width="6.55" height="34.5" fill="#222" stroke="#303030" stroke-width="0.95"/>
<rect x="291.32" y="455.35" width="6.55" height="35.76" fill="#d2d2d2" stroke="#303030" stroke-width="0.95"/>
<rect x="291.32" y="491.59" width="6.55" height="20.21" fill="#222" stroke="#303030" stroke-width="0.95"/>
<rect x="306.9" y="459.81" width="6.55" height="24.33" fill="#d2d2d2" stroke="#303030" stroke-width="0.95"/>
<rect x="306.9" y="484.61" width="6.55" height="27.19" fill="#222" stroke="#303030" stroke-width="0.95"/>
<rect x="322.48" y="462.1" width="6.55" height="18.84" fill="#d2d2d2" stroke="#303030" stroke-width="0.95"/>
<rect x="322.48" y="481.41" width="6.55" height="30.39" fill="#222" stroke="#303030" stroke-width="0.95"/>
<rect x="338.05" y="461.41" width="6.55" height="16.1" fill="#d2d2d2" stroke="#303030" stroke-width="0.95"/>
<rect x="338.05" y="477.99" width="6.55" height="33.82" fill="#222" stroke="#303030" stroke-width="0.95"/>
<rect x="353.62" y="466.78" width="6.55" height="9.7" fill="#d2d2d2" stroke="#303030" stroke-width="0.95"/>
<rect x="353.62" y="476.96" width="6.55" height="34.84" fill="#222" stroke="#303030" stroke-width="0.95"/>
<rect x="157" y="397.5" width="213.4" height="114.3" fill="none" stroke="#2a2a2a" stroke-width="0.7"/>
<line x1="154.7" y1="511.8" x2="157" y2="511.8" stroke="#383838" stroke-width="0.8"/>
<text x="153.2" y="514.16" text-anchor="end" font-size="5.5">0</text>
<line x1="154.7" y1="488.94" x2="157" y2="488.94" stroke="#383838" stroke-width="0.8"/>
<text x="153.2" y="491.3" text-anchor="end" font-size="5.5">2</text>
<line x1="154.7" y1="466.08" x2="157" y2="466.08" stroke="#383838" stroke-width="0.8"/>
<text x="153.2" y="468.44" text-anchor="end" font-size="5.5">4</text>
<line x1="154.7" y1="443.22" x2="157" y2="443.22" stroke="#383838" stroke-width="0.8"/>
<text x="153.2" y="445.58" text-anchor="end" font-size="5.5">6</text>
<line x1="154.7" y1="420.36" x2="157" y2="420.36" stroke="#383838" stroke-width="0.8"/>
<text x="153.2" y="422.72" text-anchor="end" font-size="5.5">8</text>
<line x1="154.7" y1="397.5" x2="157" y2="397.5" stroke="#383838" stroke-width="0.8"/>
<text x="153.2" y="399.86" text-anchor="end" font-size="5.5">10</text>
<line x1="170" y1="511.8" x2="170" y2="514.1" stroke="#383838" stroke-width="0.8"/>
<text transform="translate(171.91,516) rotate(-90)" text-anchor="end" font-size="5.3">0</text>
<line x1="185.57" y1="511.8" x2="185.57" y2="514.1" stroke="#383838" stroke-width="0.8"/>
<text transform="translate(187.48,516) rotate(-90)" text-anchor="end" font-size="5.3">0.03</text>
<line x1="201.15" y1="511.8" x2="201.15" y2="514.1" stroke="#383838" stroke-width="0.8"/>
<text transform="translate(203.06,516) rotate(-90)" text-anchor="end" font-size="5.3">8</text>
<line x1="216.72" y1="511.8" x2="216.72" y2="514.1" stroke="#383838" stroke-width="0.8"/>
<text transform="translate(218.63,516) rotate(-90)" text-anchor="end" font-size="5.3">26</text>
<line x1="232.3" y1="511.8" x2="232.3" y2="514.1" stroke="#383838" stroke-width="0.8"/>
<text transform="translate(234.21,516) rotate(-90)" text-anchor="end" font-size="5.3">56</text>
<line x1="247.88" y1="511.8" x2="247.88" y2="514.1" stroke="#383838" stroke-width="0.8"/>
<text transform="translate(249.78,516) rotate(-90)" text-anchor="end" font-size="5.3">168</text>
<text x="193.64" y="534.7" text-anchor="middle" font-size="5.15">USA (MC-YR)</text>
<line x1="263.45" y1="511.8" x2="263.45" y2="514.1" stroke="#383838" stroke-width="0.8"/>
<line x1="279.02" y1="511.8" x2="279.02" y2="514.1" stroke="#383838" stroke-width="0.8"/>
<text transform="translate(280.93,516) rotate(-90)" text-anchor="end" font-size="5.3">0</text>
<line x1="294.6" y1="511.8" x2="294.6" y2="514.1" stroke="#383838" stroke-width="0.8"/>
<text transform="translate(296.51,516) rotate(-90)" text-anchor="end" font-size="5.3">0.33</text>
<line x1="310.17" y1="511.8" x2="310.17" y2="514.1" stroke="#383838" stroke-width="0.8"/>
<text transform="translate(312.08,516) rotate(-90)" text-anchor="end" font-size="5.3">2</text>
<line x1="325.75" y1="511.8" x2="325.75" y2="514.1" stroke="#383838" stroke-width="0.8"/>
<text transform="translate(327.66,516) rotate(-90)" text-anchor="end" font-size="5.3">8</text>
<line x1="341.32" y1="511.8" x2="341.32" y2="514.1" stroke="#383838" stroke-width="0.8"/>
<text transform="translate(343.23,516) rotate(-90)" text-anchor="end" font-size="5.3">24</text>
<line x1="356.9" y1="511.8" x2="356.9" y2="514.1" stroke="#383838" stroke-width="0.8"/>
<text transform="translate(358.81,516) rotate(-90)" text-anchor="end" font-size="5.3">96</text>
<text x="331.36" y="534.7" text-anchor="middle" font-size="5.15">Lab MA (MC-LR)</text>
<text x="265" y="545.6" text-anchor="middle" font-size="5.15">Time (hours)</text>
<text transform="translate(143,454.65) scale(1,1.0) rotate(-90)" text-anchor="middle" font-size="5.3">Microcystin (<tspan font-style="italic">μ</tspan>g/L)</text>
<text x="264.6" y="393.9" text-anchor="middle" font-size="6.3">Ozone stagnation</text>
<text x="159.6" y="404.03" font-size="5.6">(E)</text>
<rect x="314.9" y="400.3" width="53" height="17.9" rx="1.3" fill="#fff" stroke="#404040" stroke-width="0.95"/>
<rect x="316.9" y="403.38" width="11.4" height="3.5" fill="#222" stroke="#303030" stroke-width="0.7"/>
<text x="331.9" y="407" font-size="5.2">Extracellular</text>
<rect x="316.9" y="411.35" width="11.4" height="3.5" fill="#d2d2d2" stroke="#303030" stroke-width="0.7"/>
<text x="331.9" y="414.97" font-size="5.2">Intracellular</text>
</g>
</svg>
</body></html>
